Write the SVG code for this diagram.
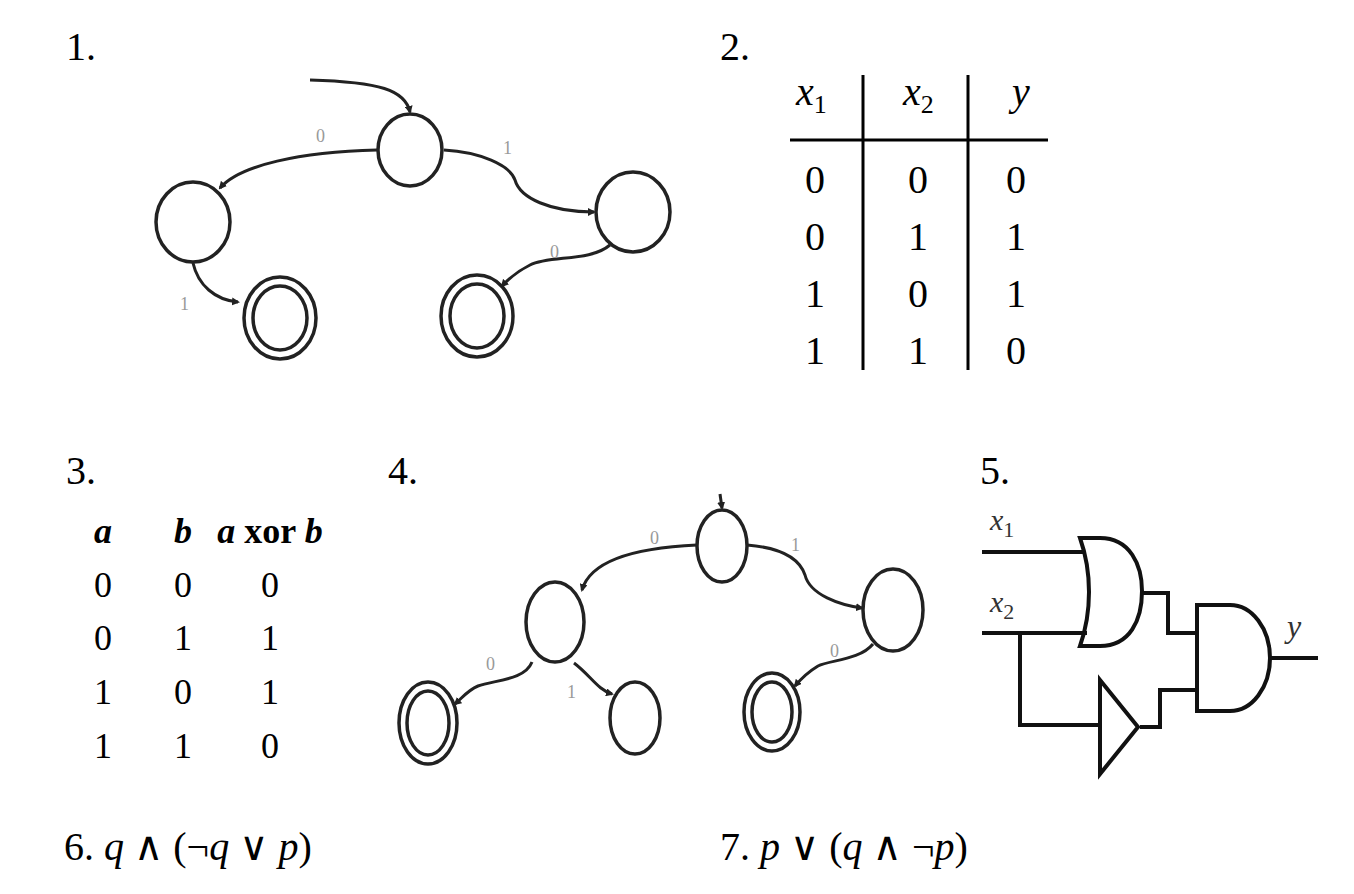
<svg xmlns="http://www.w3.org/2000/svg" width="1354" height="894" viewBox="0 0 1354 894">
<style>
.t{font-family:"Liberation Serif","DejaVu Serif","Noto Serif",serif;font-size:40px;fill:#000}
.f{font-family:"Liberation Serif","DejaVu Serif","Noto Serif",serif}
.s{fill:none;stroke:#222;stroke-width:3.5}
.e{fill:none;stroke:#222;stroke-width:3}
.l{font-family:"Liberation Serif","DejaVu Serif",serif;font-size:18px;fill:#999}
.w{fill:none;stroke:#111;stroke-width:4}
</style>
<defs><marker id="a" markerWidth="8" markerHeight="8" refX="6" refY="4" orient="auto" markerUnits="userSpaceOnUse"><path d="M0,0L8,4L0,8z" fill="#222"/></marker></defs>
<rect width="1354" height="894" fill="#fff"/>
<text class="t" x="66" y="60">1.</text><text class="t" x="720" y="60">2.</text>
<text class="t" x="66" y="484">3.</text><text class="t" x="388" y="484">4.</text><text class="t" x="980" y="484">5.</text>
<g id="fsm1">
<g id="n1a"><ellipse class="s" cx="410" cy="150" rx="32" ry="36"/></g>
<g id="n1b"><ellipse class="s" cx="193" cy="222" rx="37" ry="40"/></g>
<g id="n1c"><ellipse class="s" cx="633" cy="212" rx="37" ry="40"/></g>
<g id="n1d"><ellipse class="s" cx="280" cy="318" rx="36" ry="41"/><ellipse class="s" cx="280" cy="318" rx="27" ry="32"/></g>
<g id="n1e"><ellipse class="s" cx="477" cy="316" rx="36" ry="41"/><ellipse class="s" cx="477" cy="316" rx="27" ry="32"/></g>
<g id="c1">
<path class="e" d="M310,80 C380,82 405,90 410,112" marker-end="url(#a)"/>
<path class="e" d="M377,150 C300,152 240,165 220,188" marker-end="url(#a)"/>
<path class="e" d="M444,150 C480,152 510,165 515,180 C520,198 550,212 594,212" marker-end="url(#a)"/>
<path class="e" d="M193,263 C198,285 215,300 238,302" marker-end="url(#a)"/>
<path class="e" d="M610,245 C590,262 550,255 530,265 C520,270 512,275 502,286" marker-end="url(#a)"/>
</g>
<text class="l" x="316" y="142">0</text><text class="l" x="503" y="154">1</text>
<text class="l" x="180" y="310">1</text><text class="l" x="550" y="258">0</text>
</g>
<g id="table2">
<text class="t" x="796" y="105" font-style="italic">x<tspan font-size="26" dy="8" font-style="normal">1</tspan></text>
<text class="t" x="903" y="105" font-style="italic">x<tspan font-size="26" dy="8" font-style="normal">2</tspan></text>
<text class="t" x="1012" y="105" font-style="italic">y</text>
<line x1="863" y1="75" x2="863" y2="370" stroke="#000" stroke-width="3"/>
<line x1="968" y1="75" x2="968" y2="370" stroke="#000" stroke-width="3"/>
<line x1="790" y1="140" x2="1048" y2="140" stroke="#000" stroke-width="3"/>
<g class="t" text-anchor="middle">
<text x="815" y="193">0</text><text x="918" y="193">0</text><text x="1016" y="193">0</text>
<text x="815" y="250">0</text><text x="918" y="250">1</text><text x="1016" y="250">1</text>
<text x="815" y="307">1</text><text x="918" y="307">0</text><text x="1016" y="307">1</text>
<text x="815" y="364">1</text><text x="918" y="364">1</text><text x="1016" y="364">0</text>
</g>
</g>
<g id="table3" class="f" font-size="36" text-anchor="middle">
<text x="103" y="543" font-weight="bold" font-style="italic">a</text>
<text x="183" y="543" font-weight="bold" font-style="italic">b</text>
<text x="270" y="543" font-weight="bold"><tspan font-style="italic">a</tspan> xor <tspan font-style="italic">b</tspan></text>
<text x="103" y="597">0</text><text x="183" y="597">0</text><text x="270" y="597">0</text>
<text x="103" y="650">0</text><text x="183" y="650">1</text><text x="270" y="650">1</text>
<text x="103" y="704">1</text><text x="183" y="704">0</text><text x="270" y="704">1</text>
<text x="103" y="758">1</text><text x="183" y="758">1</text><text x="270" y="758">0</text>
</g>
<g id="fsm4">
<g id="n4a"><ellipse class="s" cx="722" cy="546" rx="25" ry="36"/></g>
<g id="n4b"><ellipse class="s" cx="555" cy="622" rx="29" ry="40"/></g>
<g id="n4c"><ellipse class="s" cx="893" cy="610" rx="30" ry="41"/></g>
<g id="n4d"><ellipse class="s" cx="428" cy="723" rx="29" ry="41"/><ellipse class="s" cx="428" cy="723" rx="21" ry="32"/></g>
<g id="n4e"><ellipse class="s" cx="635" cy="718" rx="25" ry="36"/></g>
<g id="n4f"><ellipse class="s" cx="772" cy="712" rx="28" ry="39"/><ellipse class="s" cx="772" cy="712" rx="20" ry="30"/></g>
<g id="c4">
<path class="e" d="M720,494 L722,508" marker-end="url(#a)"/>
<path class="e" d="M697,545 C630,548 590,562 582,590" marker-end="url(#a)"/>
<path class="e" d="M747,545 C785,548 800,560 805,575 C810,595 840,605 862,608" marker-end="url(#a)"/>
<path class="e" d="M532,662 C525,680 495,680 478,686 C468,690 462,698 455,704" marker-end="url(#a)"/>
<path class="e" d="M574,663 C590,675 598,690 612,694" marker-end="url(#a)"/>
<path class="e" d="M873,644 C860,660 830,660 818,666 C808,672 800,680 795,686" marker-end="url(#a)"/>
</g>
<text class="l" x="650" y="544">0</text><text class="l" x="791" y="551">1</text>
<text class="l" x="486" y="670">0</text><text class="l" x="567" y="698">1</text><text class="l" x="830" y="657">0</text>
</g>
<g id="circuit">
<text x="990" y="530" class="f" font-size="30" font-style="italic" fill="#333">x<tspan font-size="22" dy="7" font-style="normal">1</tspan></text>
<text x="990" y="612" class="f" font-size="30" font-style="italic" fill="#333">x<tspan font-size="22" dy="7" font-style="normal">2</tspan></text>
<text x="1287" y="637" class="f" font-size="32" font-style="italic" fill="#333">y</text>
<g id="gOR"><path class="w" d="M1080,538 L1100,538 C1130,538 1142,565 1142,591 C1142,620 1130,646 1100,646 L1080,646 C1092,612 1092,572 1080,538 Z"/></g>
<g id="gAND"><path class="w" d="M1197,605 L1230,605 A40,53 0 0 1 1230,711 L1197,711 Z"/></g>
<g id="gBUF"><path class="w" d="M1100,680 L1138,727 L1100,774 Z"/></g>
<g id="wires">
<polyline class="w" points="982,552 1084,552"/>
<polyline class="w" points="982,633 1087,633"/>
<polyline class="w" points="1142,593 1168,593 1168,633 1197,633"/>
<polyline class="w" points="1020,633 1020,725 1100,725"/>
<polyline class="w" points="1140,727 1160,727 1160,690 1197,690"/>
<polyline class="w" points="1270,658 1318,658"/>
</g>
</g>
<text class="t" x="64" y="860">6. <tspan font-style="italic">q</tspan> ∧ (¬<tspan font-style="italic">q</tspan>  ∨ <tspan font-style="italic">p</tspan>)</text>
<text class="t" x="720" y="860">7. <tspan font-style="italic">p</tspan> ∨ (<tspan font-style="italic">q</tspan> ∧ ¬<tspan font-style="italic">p</tspan>)</text>
</svg>
